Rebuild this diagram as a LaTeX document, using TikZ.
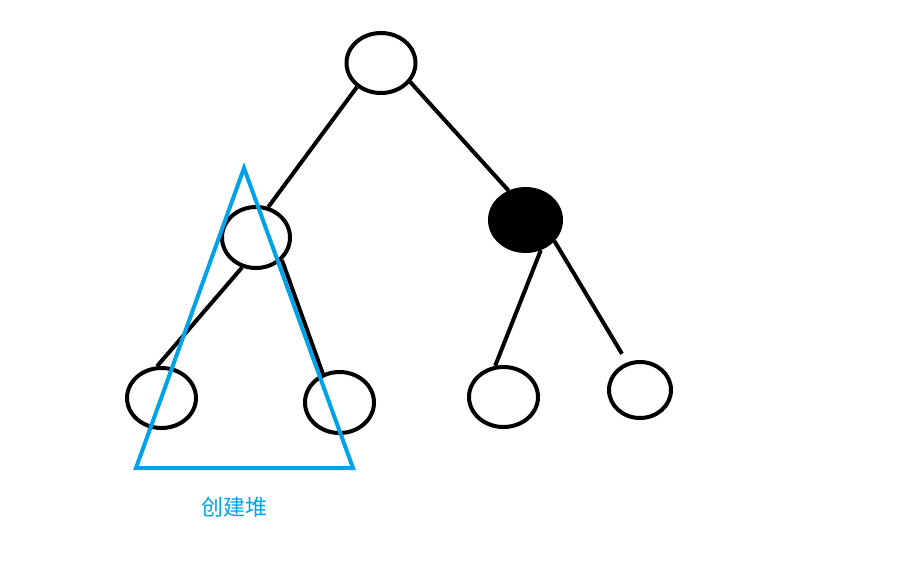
\documentclass[tikz,border=0pt]{standalone}
\usepackage{fontspec}
\newfontfamily\cjk{Noto Sans CJK SC}
\usepackage{tikz}
\usetikzlibrary{shapes.geometric}
\definecolor{heapblue}{RGB}{0,162,232}

\begin{document}
\begin{tikzpicture}[x=1pt,y=-1pt,line width=4pt,
    knot/.style={ellipse,draw,inner sep=0pt,minimum width=69pt,minimum height=60pt},
    picked/.style={knot,fill=black}]
\useasboundingbox (0,0) rectangle (901,574);
% Here is where we put each node of the tree at its own place
   \node[knot] (root) at (381,63) {};
   \node[knot,minimum width=68pt,minimum height=61pt] (lc) at (256,237.5) {};
   \node[picked,minimum width=71pt,minimum height=62pt] (rc) at (525.5,220) {};
   \node[knot] (ll) at (161.5,398) {};
   \node[knot,minimum height=61pt] (lr) at (339.5,402.5) {};
   \node[knot] (rl) at (503.5,397) {};
   \node[knot,minimum width=62pt,minimum height=56pt] (rr) at (640,390) {};
% Here is where we draw the branches between the nodes
    \path[draw]
    (root.225) edge (lc.68)
    (root.327) edge (rc.120)
    (lc.245) edge (ll.98)
    (lc.319) edge (lr.120)
    (rc.297) edge (rl.105)
    (rc.324) edge [shorten >=10pt] (rr.115);
% Here is the triangle round the left subtree and its text
   \coordinate (top) at (244,168);
   \coordinate (bl) at (136,468);
   \coordinate (br) at (353,468);
   \draw[heapblue,line join=miter] (top) -- (bl) -- (br) -- cycle;
   \node[text=heapblue,font=\cjk\fontsize{22}{24}\selectfont] (label) at (234,507) {创建堆};
\end{tikzpicture}
\end{document}
